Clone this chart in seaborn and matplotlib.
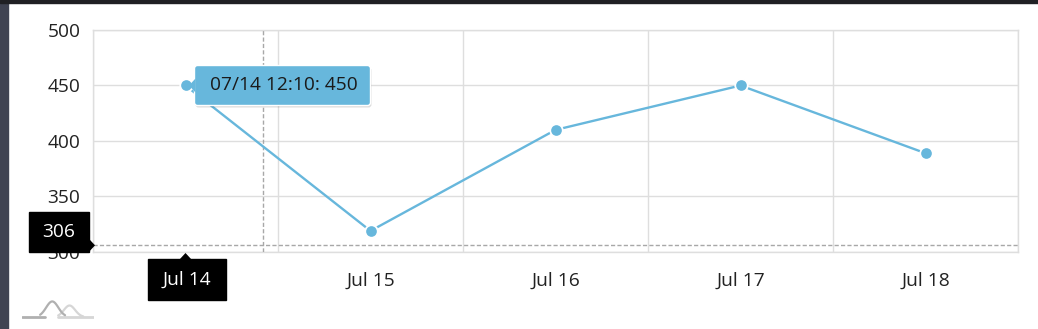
import numpy as np
import pandas as pd
import matplotlib
matplotlib.use("Agg")
import matplotlib.pyplot as plt
import matplotlib.patches as mpatches
import matplotlib.transforms as mtrans
import seaborn as sns

# ---- data ----
days = ["Jul 14", "Jul 15", "Jul 16", "Jul 17", "Jul 18"]
values = [450, 319, 410, 450, 389]
y_ticks = [300, 350, 400, 450, 500]
tooltip_text = "07/14 12:10: 450"
cursor_value = 306
cursor_day = 0.92  # cursor position, in days from the axis start

sns.set_theme(style="white")
plt.rcParams['font.family'] = ['Open Sans', 'DejaVu Sans']

W, H = 1038, 329
FS = 13.8
fig = plt.figure(figsize=(W / 100, H / 100), dpi=100)

# dark frame bars
fig.patches.append(mpatches.Rectangle((0, 0), 8 / W, 1, transform=fig.transFigure,
                                      color="#404352", zorder=0))
fig.patches.append(mpatches.Rectangle((0, 1 - 3 / H), 1, 3 / H, transform=fig.transFigure,
                                      color="#202024", zorder=0))

L, R, T, B = 93, 1018, 30, 252
ax = fig.add_axes([L / W, 1 - B / H, (R - L) / W, (B - T) / H])

df = pd.DataFrame({"x": np.arange(len(days)) + 0.5, "value": values})
sns.lineplot(data=df, x="x", y="value", ax=ax, color="#67b7dc", linewidth=1.7,
             marker="o", markersize=9, markeredgecolor="white", markeredgewidth=1.3,
             zorder=5)

ax.set_xlim(0, len(days))
ax.set_ylim(300, 500)
ax.set_yticks(y_ticks)
ax.set_yticklabels([str(v) for v in y_ticks])
ax.set_xticks(np.arange(len(days)) + 0.5)
ax.set_xticklabels(days)
ax.tick_params(axis="both", which="both", length=0, labelsize=FS, colors="#222222")
ax.tick_params(axis="x", pad=14)
ax.tick_params(axis="y", pad=9)
ax.grid(False)
for v in y_ticks:
    ax.axhline(v, color="#dedede", lw=1, zorder=0)
for d in range(len(days) + 1):
    ax.axvline(d, color="#dedede", lw=1, zorder=0)
for s in ax.spines.values():
    s.set_color("#dedede")
    s.set_linewidth(1)
ax.set_xlabel("")
ax.set_ylabel("")

# cursor lines
ax.axvline(cursor_day, color="#a8a8a8", lw=1, ls=(0, (3, 1.6)), zorder=3)
ax.axhline(cursor_value, color="#a8a8a8", lw=1, ls=(0, (3, 1.6)), zorder=3)


def px_trans(x, y):
    """Transform: vertices given in pixel offsets (y up) from data point (x, y)."""
    return mtrans.Affine2D().scale(1 / 100) + fig.dpi_scale_trans + \
        mtrans.ScaledTranslation(x, y, ax.transData)


def callout(x, y, box, tri, fc, ec=None, rounding=0, shadow=False):
    tr = px_trans(x, y)
    x0, y0, x1, y1 = box
    style = f"round,pad=0,rounding_size={rounding}" if rounding else "square,pad=0"
    if shadow:
        ax.add_patch(mpatches.FancyBboxPatch((x0 + 1, y0 - 2), x1 - x0, y1 - y0, boxstyle=style,
                                             fc="#00000022", ec="none", transform=tr,
                                             zorder=9, clip_on=False))
    ax.add_patch(mpatches.FancyBboxPatch((x0, y0), x1 - x0, y1 - y0, boxstyle=style,
                                         fc=fc, ec=ec if ec else fc, lw=1, transform=tr,
                                         zorder=10, clip_on=False))
    ax.add_patch(mpatches.Polygon(tri, closed=True, fc=fc, ec="none", transform=tr,
                                  zorder=11, clip_on=False))
    return tr


# tooltip at first point
tr = callout(0.5, values[0], (9, -20, 185, 20), [(10, -7), (3.5, 0), (10, 7)],
             "#67b7dc", ec="#ffffff", rounding=3, shadow=True)
ax.text(24, 0, tooltip_text, transform=tr, ha="left", va="center", fontsize=FS,
        color="#1a1a1a", zorder=12)

# y cursor label
tr = callout(0, cursor_value, (-64, -7, -4, 33), [(-4.5, 7), (2, 0), (-4.5, -7)], "black")
ax.text(-34, 13, str(cursor_value), transform=tr, ha="center", va="center", fontsize=FS,
        color="white", zorder=12)

# x cursor label
tr = callout(0.5, 300, (-38, -48, 40, -7), [(-6, -7.5), (0, -1), (6, -7.5)], "black")
ax.text(1, -27.5, days[0], transform=tr, ha="center", va="center", fontsize=FS,
        color="white", zorder=12)

# small logo
lax = fig.add_axes([22 / W, 1 - 321 / H, 72 / W, 22 / H])
t = np.linspace(0, 1, 200)
h1 = np.exp(-((t - 0.42) / 0.12) ** 2) * 0.95
h2 = np.exp(-((t - 0.66) / 0.11) ** 2) * 0.7
m2 = t > 0.5
lax.plot(t[m2], np.zeros(m2.sum()), color="#d6d6d6", lw=2)
lax.plot(t[(t > 0.5) & (t < 0.85)], h2[(t > 0.5) & (t < 0.85)], color="#d6d6d6", lw=1.6)
m1 = (t > 0.25) & (t <= 0.6)
lax.plot(t[m1], h1[m1], color="#b0b0b0", lw=1.6)
m0 = t <= 0.32
lax.plot(t[m0], np.zeros(m0.sum()), color="#b0b0b0", lw=2)
lax.set_xlim(0, 1); lax.set_ylim(-0.25, 1.1)
lax.axis("off")

fig.savefig("out.png", dpi=100)
